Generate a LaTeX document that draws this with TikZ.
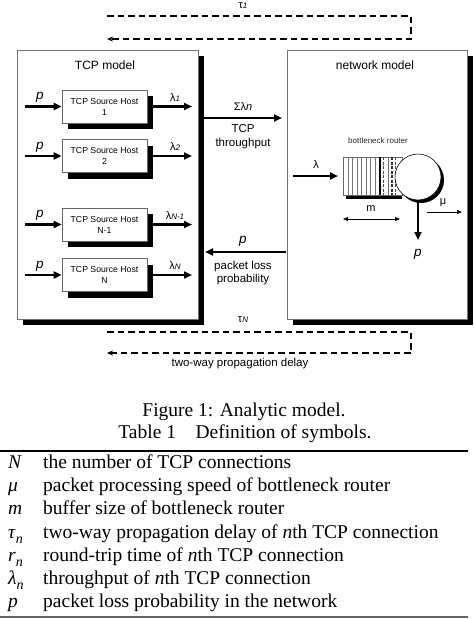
\documentclass[tikz,border=0pt]{standalone}
\usepackage{fontspec}
\setmainfont{Liberation Serif}
\newfontfamily\dsans{Liberation Sans}
\usetikzlibrary{arrows.meta,shadows}
\newcommand\mysubn{\raisebox{-0.3em}{\fontsize{14}{14}\selectfont\itshape n}}
\begin{document}
\begin{tikzpicture}[x=1pt,y=-1pt,
  arr/.style={line width=2.2pt,-{Triangle[length=8pt,width=7pt]}},
  thinarr/.style={line width=0.8pt,-{Triangle[length=5pt,width=4pt]}},
  dblarr/.style={line width=0.8pt,{Triangle[length=5pt,width=4pt]}-{Triangle[length=5pt,width=4pt]}},
  dashline/.style={line width=1.1pt,dash pattern=on 6.5pt off 4pt,-{Stealth[length=6pt,width=5pt]}},
  lbl/.style={font=\dsans\fontsize{11.5}{13}\selectfont,inner sep=0pt,align=center},
  plbl/.style={font=\dsans\itshape\fontsize{13.5}{14}\selectfont,inner sep=0pt},
  slbl/.style={font=\dsans\fontsize{11}{12}\selectfont,inner sep=0pt},
  bigbox/.style={draw=black!55,line width=0.7pt,fill=white,minimum height=269pt,inner sep=0pt,
    general shadow={fill=black,shadow xshift=6pt,shadow yshift=-6pt}},
  hostbox/.style={draw=black!60,line width=0.6pt,fill=white,minimum width=85pt,minimum height=33pt,
    inner sep=0pt,align=center,font=\dsans\fontsize{8.7}{11}\selectfont,
    general shadow={fill=black,shadow xshift=6pt,shadow yshift=-6pt}},
  captxt/.style={font=\fontsize{19.5}{22}\selectfont,inner sep=0pt},
  symtxt/.style={font=\fontsize{19.5}{22}\selectfont,inner sep=0pt,anchor=base west},
]
\useasboundingbox (0,0) rectangle (474,619);

% top dashed loop
\node[slbl] (tau1) at (243,6) {τ{\fontsize{8}{8}\selectfont\itshape 1}};
\coordinate (t1a) at (107,16);
\coordinate (t1b) at (411,16);
\coordinate (t1c) at (411,39);
\coordinate (t1d) at (107,39);
\draw[dashline] (t1a) -- (t1b) -- (t1c) -- (t1d);

% big boxes
\node[bigbox,minimum width=181pt] (tcp) at (107.5,184.5) {};
\node[bigbox,minimum width=180pt] (net) at (377,184.5) {};
\node[font=\dsans\fontsize{12}{14}\selectfont,inner sep=0pt] (tcplbl) at (105,65) {TCP model};
\node[font=\dsans\fontsize{12}{14}\selectfont,inner sep=0pt] (netlbl) at (375,65) {network model};

% hosts
\foreach \nm/\yy/\txt/\lam in {h1/106.5/1/{λ{\fontsize{8}{8}\selectfont\itshape 1}},
                               h2/156/2/{λ{\fontsize{8}{8}\selectfont\itshape 2}},
                               h3/224.5/N-1/{λ{\fontsize{8}{8}\selectfont\itshape N-1}},
                               h4/275/N/{λ{\fontsize{8}{8}\selectfont\itshape N}}}{
  \node[hostbox] (\nm) at (104.5,\yy) {TCP Source Host\\\txt};
  \coordinate (\nm in) at (25,\yy);
  \coordinate (\nm o1) at (153,\yy);
  \coordinate (\nm o2) at (192,\yy);
  \draw[arr] (\nm in) -- (\nm.west);
  \draw[arr] (\nm o1) -- (\nm o2);
  \node[plbl] (\nm p) at (40,\yy-9) {p};
  \node[slbl] (\nm lam) at (175,\yy-9) {\lam};
}

% middle arrows
\coordinate (thA) at (204,118);
\coordinate (thB) at (282,118);
\draw[arr] (thA) -- (thB);
\node[slbl] (sum) at (243,107) {Σλ{\itshape n}};
\node[lbl,font=\dsans\fontsize{11.5}{13.5}\selectfont] (thr) at (243,136.5) {TCP\\throughput};

\coordinate (plA) at (286,252);
\coordinate (plB) at (205,252);
\draw[arr] (plA) -- (plB);
\node[plbl] (pmid) at (243,241) {p};
\node[lbl,font=\dsans\fontsize{11.5}{12.5}\selectfont] (plp) at (243,273) {packet loss\\probability};

% bottom dashed loop
\node[slbl] (tauN) at (243,320) {τ{\fontsize{8}{8}\selectfont\itshape N}};
\coordinate (tNa) at (107,332);
\coordinate (tNb) at (411,332);
\coordinate (tNc) at (411,353);
\coordinate (tNd) at (107,353);
\draw[dashline] (tNa) -- (tNb) -- (tNc) -- (tNd);
\node[lbl] (twoway) at (240,364) {two-way propagation delay};

% router
\node[font=\dsans\fontsize{8}{9}\selectfont,text=black!85,inner sep=0pt] (brl) at (378,141) {bottleneck router};
\fill (346,195) rectangle (402,198.5);
\draw[black!60,line width=0.6pt,fill=white] (343,157) rectangle (402,195);
\foreach \xx in {348,352.5,357,361.5,366,370.5,375}{
  \draw[black!55,line width=0.5pt] (\xx,157) -- (\xx,195);
}
\draw[black,line width=1.4pt] (380,157) -- (380,195);
\draw[black!70,line width=1pt,dash pattern=on 3pt off 1.5pt] (383.5,157) -- (383.5,195);
\draw[black!55,line width=0.5pt] (388,157) -- (388,195);
\draw[black!80,line width=1.2pt,dash pattern=on 3pt off 1.5pt] (392,157) -- (392,195);
\draw[black!70,line width=1pt,dash pattern=on 3pt off 1.5pt] (395.5,157) -- (395.5,195);
\fill[black] (421,180) circle (23);
\node[circle,draw=black,line width=0.6pt,fill=white,minimum size=46pt,inner sep=0pt] (srv) at (418,177) {};
\coordinate (lamA) at (293,176);
\coordinate (lamB) at (338,176);
\draw[arr] (lamA) -- (lamB);
\node[slbl] (laml) at (316,165) {λ};
\coordinate (pdn) at (418,240);
\draw[arr] (srv.south) -- (pdn);
\node[plbl] (pbot) at (418,254) {p};
\coordinate (mA) at (343,219);
\coordinate (mB) at (400,219);
\draw[dblarr] (mA) -- (mB);
\node[slbl] (ml) at (371,209) {m};
\coordinate (muA) at (427,212);
\coordinate (muB) at (462,212);
\draw[thinarr] (muA) -- (muB);
\node[slbl] (mul) at (443,203) {μ};

% caption and table
\node[captxt] (fig) at (244,412) {Figure 1: Analytic model.};
\node[captxt] (tab) at (245,434) {Table 1\quad Definition of symbols.};
\coordinate (r1a) at (0,451);
\coordinate (r1b) at (468,451);
\draw[line width=2pt] (r1a) -- (r1b);
\node[symtxt] (s1) at (8,468) {\textit{N}};
\node[symtxt] (d1) at (43,468) {the number of TCP connections};
\node[symtxt] (s2) at (8,491) {\textit{μ}};
\node[symtxt] (d2) at (43,491) {packet processing speed of bottleneck router};
\node[symtxt] (s3) at (8,514) {\textit{m}};
\node[symtxt] (d3) at (43,514) {buffer size of bottleneck router};
\node[symtxt] (s4) at (8,538) {\textit{τ}\mysubn};
\node[symtxt] (d4) at (43,538) {two-way propagation delay of \textit{n}th TCP connection};
\node[symtxt] (s5) at (8,561) {\textit{r}\mysubn};
\node[symtxt] (d5) at (43,561) {round-trip time of \textit{n}th TCP connection};
\node[symtxt] (s6) at (8,584) {\textit{λ}\mysubn};
\node[symtxt] (d6) at (43,584) {throughput of \textit{n}th TCP connection};
\node[symtxt] (s7) at (8,607) {\textit{p}};
\node[symtxt] (d7) at (43,607) {packet loss probability in the network};
\coordinate (r2a) at (0,617);
\coordinate (r2b) at (468,617);
\draw[line width=1.2pt,black!60] (r2a) -- (r2b);
\end{tikzpicture}
\end{document}
